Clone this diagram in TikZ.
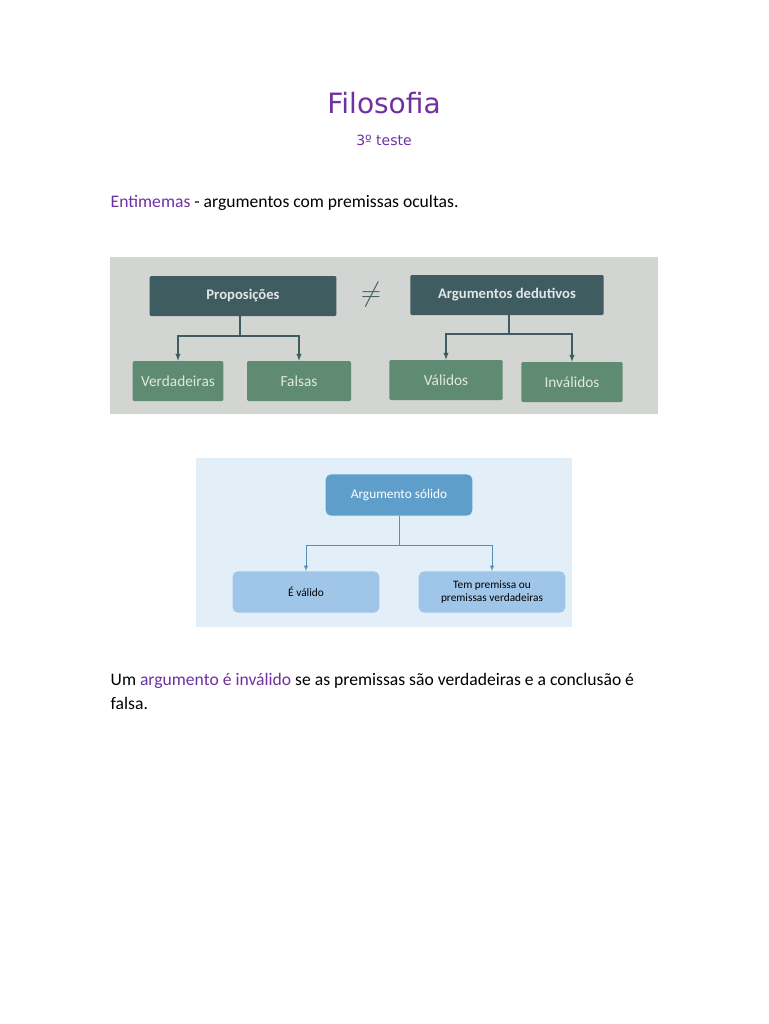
\documentclass[tikz,border=0pt]{standalone}
\usepackage{fontspec}
\setmainfont{Carlito}
\newfontfamily\titlefont{DejaVu Sans}
\usetikzlibrary{positioning}
\definecolor{roxo}{HTML}{7030A0}
\definecolor{escuro}{HTML}{3F5C61}
\definecolor{verde}{HTML}{5F8B73}
\definecolor{cinza}{HTML}{D3D5D2}
\definecolor{azul}{HTML}{5D9FCA}
\definecolor{azulclaro}{HTML}{9FC5E8}
\definecolor{fundo}{HTML}{E3EFF8}
\tikzset{
  topo/.style={fill=escuro, text=white!85!escuro, rounded corners=1pt, minimum height=30pt, font=\bfseries\fontsize{11}{13}\selectfont},
  folha/.style={fill=verde, text=white!80!verde, rounded corners=1pt, minimum height=30pt, font=\fontsize{11.5}{13}\selectfont},
  raiz/.style={fill=azul, text=white, rounded corners=4pt, minimum width=110pt, minimum height=31pt, font=\fontsize{10}{12}\selectfont},
  filho/.style={fill=azulclaro, rounded corners=4pt, minimum width=110pt, minimum height=31pt, align=center, font=\fontsize{8.5}{10}\selectfont},
  seta/.style={->, >=latex, thick, draw=escuro},
  setaazul/.style={->, >=latex, draw=azul!90!black}
}
\begin{document}
\begin{tikzpicture}[x=0.75pt, y=-0.75pt]
\useasboundingbox[fill=white] (0,0) rectangle (768,1024);
\node[text=roxo, font=\titlefont\fontsize{21}{24}\selectfont] (titulo) at (384,103) {Filosofia};
\node[text=roxo, font=\titlefont\fontsize{10.5}{12}\selectfont] (sub) at (384,140) {3º teste};
\node[anchor=west, font=\fontsize{13.2}{15}\selectfont] (entimemas) at (106,203) {\textcolor{roxo}{Entimemas} - argumentos com premissas ocultas.};

% fotografia
\fill[cinza] (110,257) rectangle (658,414);
\node[topo, minimum width=140pt] (prop) at (243,296) {Proposições};
\node[topo, minimum width=145pt] (arg) at (507,295) {Argumentos dedutivos};
\node[text=escuro, font=\fontsize{22}{22}\selectfont] (dif) at (371,295) {$\neq$};
\node[folha, minimum width=68pt] (verd) at (178,381) {Verdadeiras};
\node[folha, minimum width=78pt] (fals) at (299,381) {Falsas};
\node[folha, minimum width=85pt] (val) at (446,380) {Válidos};
\node[folha, minimum width=76pt] (inv) at (572,382) {Inválidos};
\coordinate (p1) at (240,336);
\coordinate (a1) at (509,334);
\draw[thick, escuro] (prop.south -| p1) -- (p1);
\draw[seta] (p1) -- (178,336) -- (verd.north);
\draw[seta] (p1) -- (299,336) -- (fals.north);
\draw[thick, escuro] (arg.south -| a1) -- (a1);
\draw[seta] (a1) -- (446,334) -- (val.north);
\draw[seta] (a1) -- (572,334) -- (inv.north);

% segundo esquema
\fill[fundo] (196,458) rectangle (572,627);
\node[raiz] (solido) at (399,495) {Argumento sólido};
\node[filho] (valido) at (306,592) {É válido};
\node[filho] (premissa) at (492,592) {Tem premissa ou\\premissas verdadeiras};
\coordinate (s1) at (399,545);
\draw[draw=azul!90!black] (solido.south) -- (s1);
\draw[setaazul] (s1) -- (306,545) -- (valido.north);
\draw[setaazul] (s1) -- (492,545) -- (premissa.north);

\node[anchor=north west, align=left, font=\fontsize{13.2}{18}\selectfont] (texto) at (106,669) {Um \textcolor{roxo}{argumento é inválido} se as premissas são verdadeiras e a conclusão é\\falsa.};
\end{tikzpicture}
\end{document}
